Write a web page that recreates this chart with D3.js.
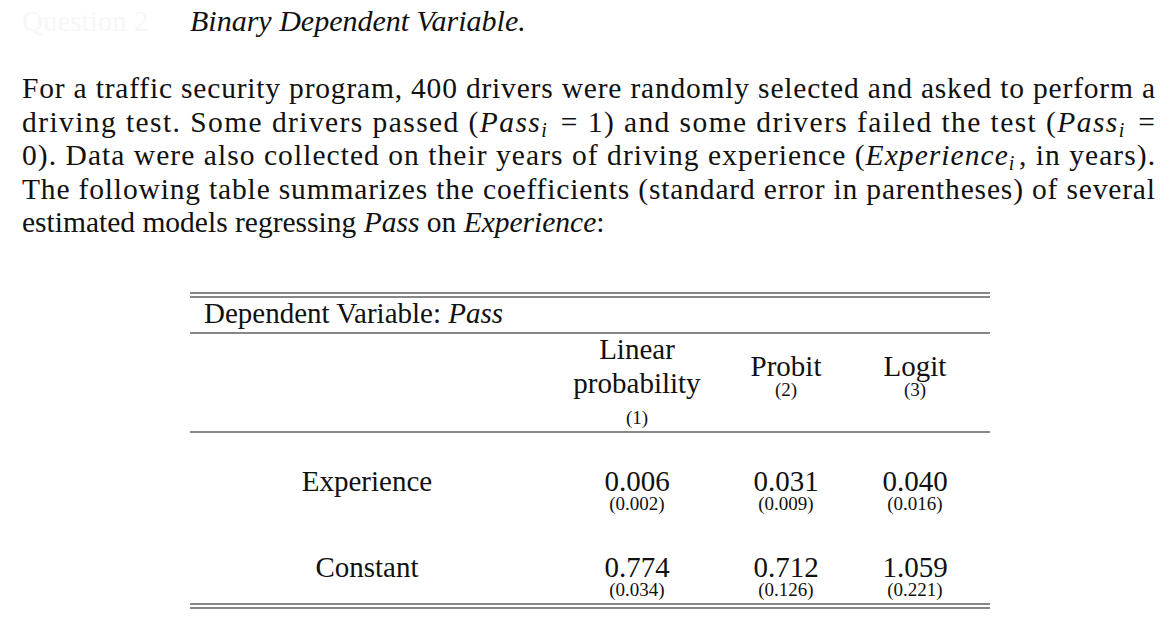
<!DOCTYPE html><html><head><meta charset="utf-8">
<script src="https://cdn.jsdelivr.net/npm/d3@7"></script>
<style>body{margin:0;background:#fff}text{font-family:"Liberation Serif","DejaVu Serif",serif;fill:#111}</style></head><body>
<svg id="c" width="1171" height="630"></svg>
<script>
const columns=["Linear probability","Probit","Logit"];
const colNums=["(1)","(2)","(3)"];
const rows=["Experience","Constant"];
const coefs=[["0.006","0.031","0.040"],["0.774","0.712","1.059"]];
const ses=[["(0.002)","(0.009)","(0.016)"],["(0.034)","(0.126)","(0.221)"]];
const paragraph=[
 [["For a traffic security program, 400 drivers were randomly selected and asked to perform a"]],
 [["driving test.  Some drivers passed ("],["Pass","i"],[" = 1) and some drivers failed the test ("],["Pass","i"],[" ="]],
 [["0).  Data were also collected on their years of driving experience ("],["Experience","i"],[", in years)."]],
 [["The following table summarizes the coefficients (standard error in parentheses) of several"]],
 [["estimated models regressing "],["Pass",""],[" on "],["Experience",""],[":"]]
];
const svg=d3.select("#c");
svg.append("text").attr("x",22).attr("y",31).attr("font-size",29).style("fill","#f7f7f7").text("Question 2");
svg.append("text").attr("x",190).attr("y",31).attr("font-size",30).attr("font-style","italic").text("Binary Dependent Variable.");
const yL=d3.scaleLinear().domain([0,4]).range([98,232]);
paragraph.forEach((line,i)=>{
 const t=svg.append("text").attr("x",22).attr("y",yL(i)).attr("font-size",29.5);
 if(i<4) t.attr("textLength",1133).attr("lengthAdjust","spacing");
 line.forEach(seg=>{
  if(seg.length===1) t.append("tspan").text(seg[0]);
  else{ t.append("tspan").attr("font-style","italic").text(seg[0]);
   if(seg[1]){ t.append("tspan").attr("font-style","italic").attr("font-size",20).attr("dy",5).text(seg[1]);
    t.append("tspan").attr("dy",-5).text("\u200a");}
  }
 });
});
const x0=190,x1=990;
const line=(y)=>svg.append("line").attr("x1",x0).attr("x2",x1).attr("y1",y).attr("y2",y).attr("stroke","#111").attr("stroke-width",1.2);
line(293);line(297);line(333);line(432);line(604);line(608);
const hd=svg.append("text").attr("x",204).attr("y",323).attr("font-size",29);
hd.append("tspan").text("Dependent Variable: ");hd.append("tspan").attr("font-style","italic").text("Pass");
const xCenters=[637,786,915];
const xc=c=>xCenters[columns.indexOf(c)];
columns.forEach((c,j)=>{
 const words=c.split(" ");
 if(words.length===2){
  svg.append("text").attr("x",xc(c)).attr("y",359).attr("text-anchor","middle").attr("font-size",29).text(words[0]);
  svg.append("text").attr("x",xc(c)).attr("y",393).attr("text-anchor","middle").attr("font-size",29).text(words[1]);
  svg.append("text").attr("x",xc(c)).attr("y",424).attr("text-anchor","middle").attr("font-size",19).text(colNums[j]);
 } else {
  svg.append("text").attr("x",xc(c)).attr("y",376).attr("text-anchor","middle").attr("font-size",29).text(c);
  svg.append("text").attr("x",xc(c)).attr("y",396).attr("text-anchor","middle").attr("font-size",19).text(colNums[j]);
 }
});
const yr=d3.scalePoint().domain(rows).range([491,577]);
rows.forEach((r,i)=>{
 svg.append("text").attr("x",367).attr("y",yr(r)).attr("text-anchor","middle").attr("font-size",29).text(r);
 columns.forEach((c,j)=>{
  svg.append("text").attr("x",xc(c)).attr("y",yr(r)).attr("text-anchor","middle").attr("font-size",29).text(coefs[i][j]);
  svg.append("text").attr("x",xc(c)).attr("y",yr(r)+19).attr("text-anchor","middle").attr("font-size",19).text(ses[i][j]);
 });
});
</script></body></html>
